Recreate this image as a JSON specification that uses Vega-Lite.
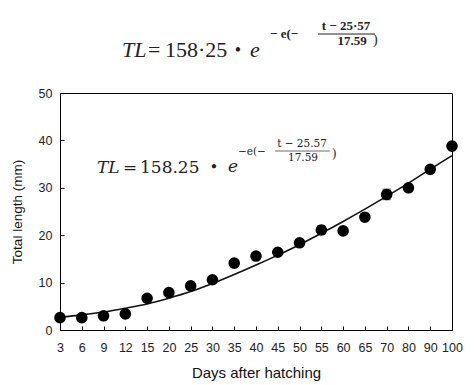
{
  "$schema": "https://vega.github.io/schema/vega-lite/v6.json",
  "autosize": {"type": "none"},
  "padding": {"left": 60, "top": 93, "right": 22, "bottom": 55},
  "width": 392,
  "height": 237,
  "background": "white",
  "config": {
    "view": {"stroke": "black", "strokeWidth": 1},
    "axis": {"domainColor": "black", "tickColor": "black", "labelFont": "Liberation Sans", "labelColor": "#222", "titleFont": "Liberation Sans", "titleFontWeight": "normal", "titleColor": "#111", "grid": false},
    "text": {"font": "DejaVu Serif", "color": "#222", "baseline": "alphabetic"}
  },
  "datasets": {
    "obs": [
      {"day": 3, "tl": 2.6, "se": 0.2},
      {"day": 6, "tl": 2.6, "se": 0.2},
      {"day": 9, "tl": 3.0, "se": 0.2},
      {"day": 12, "tl": 3.4, "se": 0.2},
      {"day": 15, "tl": 6.7, "se": 0.3},
      {"day": 20, "tl": 7.9, "se": 0.3},
      {"day": 25, "tl": 9.3, "se": 0.3},
      {"day": 30, "tl": 10.6, "se": 0.3},
      {"day": 35, "tl": 14.1, "se": 0.3},
      {"day": 40, "tl": 15.6, "se": 0.3},
      {"day": 45, "tl": 16.4, "se": 0.3},
      {"day": 50, "tl": 18.4, "se": 0.4},
      {"day": 55, "tl": 21.1, "se": 0.9},
      {"day": 60, "tl": 20.9, "se": 0.5},
      {"day": 65, "tl": 23.8, "se": 0.6},
      {"day": 70, "tl": 28.6, "se": 1.1},
      {"day": 80, "tl": 30.0, "se": 0.6},
      {"day": 90, "tl": 33.9, "se": 0.4},
      {"day": 100, "tl": 38.8, "se": 0.4}
    ],
    "fit": [
      {"day": 3, "fit": 2.7},
      {"day": 6, "fit": 3.2},
      {"day": 9, "fit": 3.8},
      {"day": 12, "fit": 4.6},
      {"day": 15, "fit": 5.5},
      {"day": 20, "fit": 6.7},
      {"day": 25, "fit": 8.1},
      {"day": 30, "fit": 9.8},
      {"day": 35, "fit": 11.7},
      {"day": 40, "fit": 13.7},
      {"day": 45, "fit": 15.8},
      {"day": 50, "fit": 18.0},
      {"day": 55, "fit": 20.4},
      {"day": 60, "fit": 22.9},
      {"day": 65, "fit": 25.5},
      {"day": 70, "fit": 28.2},
      {"day": 80, "fit": 31.0},
      {"day": 90, "fit": 33.9},
      {"day": 100, "fit": 36.8}
    ],
    "one": [{}]
  },
  "layer": [
    {
      "data": {"name": "fit"},
      "mark": {"type": "line", "interpolate": "monotone", "color": "#111", "strokeWidth": 1.6},
      "encoding": {
        "x": {"field": "day", "type": "ordinal", "title": "Days after hatching", "scale": {"type": "point", "padding": 0, "domain": [3, 6, 9, 12, 15, 20, 25, 30, 35, 40, 45, 50, 55, 60, 65, 70, 80, 90, 100]},
          "axis": {"labelAngle": 0, "labelFontSize": 12.5, "titleFontSize": 15, "tickSize": -4, "labelPadding": 15, "titlePadding": 12}},
        "y": {"field": "fit", "type": "quantitative", "title": "Total length (mm)", "scale": {"domain": [0, 50]},
          "axis": {"values": [0, 10, 20, 30, 40, 50], "labelFontSize": 12.5, "titleFontSize": 13.5, "tickSize": -4, "labelPadding": 12, "titlePadding": 14}}
      }
    },
    {
      "data": {"name": "obs"},
      "mark": {"type": "errorbar", "ticks": {"size": 8}, "thickness": 1.2, "color": "#111"},
      "encoding": {
        "x": {"field": "day", "type": "ordinal", "title": "Days after hatching"},
        "y": {"field": "tl", "type": "quantitative", "title": "Total length (mm)"},
        "yError": {"field": "se"}
      }
    },
    {
      "data": {"name": "obs"},
      "mark": {"type": "circle", "size": 135, "color": "black", "opacity": 1},
      "encoding": {
        "x": {"field": "day", "type": "ordinal", "title": "Days after hatching"},
        "y": {"field": "tl", "type": "quantitative", "title": "Total length (mm)"}
      }
    },
    {"data": {"name": "one"}, "mark": {"type": "text", "text": "TL", "font": "Liberation Serif", "fontStyle": "italic", "fontSize": 22, "align": "left", "dx": 62, "dy": -36},
      "encoding": {"x": {"datum": 3, "type": "ordinal"}, "y": {"datum": 50, "type": "quantitative"}}},
    {"data": {"name": "one"}, "mark": {"type": "text", "text": "=", "font": "Liberation Serif", "fontSize": 22, "align": "left", "dx": 88, "dy": -36},
      "encoding": {"x": {"datum": 3, "type": "ordinal"}, "y": {"datum": 50, "type": "quantitative"}}},
    {"data": {"name": "one"}, "mark": {"type": "text", "text": "158·25", "font": "Liberation Serif", "fontSize": 22, "align": "left", "dx": 105, "dy": -36},
      "encoding": {"x": {"datum": 3, "type": "ordinal"}, "y": {"datum": 50, "type": "quantitative"}}},
    {"data": {"name": "one"}, "mark": {"type": "text", "text": "•", "font": "Liberation Serif", "fontSize": 18, "align": "center", "dx": 178, "dy": -37},
      "encoding": {"x": {"datum": 3, "type": "ordinal"}, "y": {"datum": 50, "type": "quantitative"}}},
    {"data": {"name": "one"}, "mark": {"type": "text", "text": "e", "font": "Liberation Serif", "fontStyle": "italic", "fontSize": 22, "align": "left", "dx": 190, "dy": -36},
      "encoding": {"x": {"datum": 3, "type": "ordinal"}, "y": {"datum": 50, "type": "quantitative"}}},
    {"data": {"name": "one"}, "mark": {"type": "text", "text": "− e(−", "font": "Liberation Serif", "fontSize": 13, "fontWeight": "bold", "align": "left", "dx": 210, "dy": -55},
      "encoding": {"x": {"datum": 3, "type": "ordinal"}, "y": {"datum": 50, "type": "quantitative"}}},
    {"data": {"name": "one"}, "mark": {"type": "text", "text": "t − 25·57", "font": "Liberation Serif", "fontSize": 13, "fontWeight": "bold", "align": "center", "dx": 286, "dy": -63},
      "encoding": {"x": {"datum": 3, "type": "ordinal"}, "y": {"datum": 50, "type": "quantitative"}}},
    {"data": {"name": "one"}, "mark": {"type": "rule", "color": "#222", "strokeWidth": 1, "xOffset": 258, "x2Offset": 315, "yOffset": -59},
      "encoding": {"x": {"datum": 3, "type": "ordinal"}, "x2": {"datum": 3}, "y": {"datum": 50, "type": "quantitative"}}},
    {"data": {"name": "one"}, "mark": {"type": "text", "text": "17.59", "font": "Liberation Serif", "fontSize": 13, "fontWeight": "bold", "align": "center", "dx": 292, "dy": -48},
      "encoding": {"x": {"datum": 3, "type": "ordinal"}, "y": {"datum": 50, "type": "quantitative"}}},
    {"data": {"name": "one"}, "mark": {"type": "text", "text": ")", "font": "Liberation Serif", "fontSize": 14, "align": "left", "dx": 313, "dy": -49},
      "encoding": {"x": {"datum": 3, "type": "ordinal"}, "y": {"datum": 50, "type": "quantitative"}}},
    {"data": {"name": "one"}, "mark": {"type": "text", "text": "TL", "fontStyle": "italic", "fontSize": 17, "align": "left", "dx": 37, "dy": 80},
      "encoding": {"x": {"datum": 3, "type": "ordinal"}, "y": {"datum": 50, "type": "quantitative"}}},
    {"data": {"name": "one"}, "mark": {"type": "text", "text": "=", "fontSize": 17, "align": "left", "dx": 63, "dy": 80},
      "encoding": {"x": {"datum": 3, "type": "ordinal"}, "y": {"datum": 50, "type": "quantitative"}}},
    {"data": {"name": "one"}, "mark": {"type": "text", "text": "158.25", "fontSize": 17, "align": "left", "dx": 80, "dy": 80},
      "encoding": {"x": {"datum": 3, "type": "ordinal"}, "y": {"datum": 50, "type": "quantitative"}}},
    {"data": {"name": "one"}, "mark": {"type": "text", "text": "•", "fontSize": 15, "align": "center", "dx": 154, "dy": 79},
      "encoding": {"x": {"datum": 3, "type": "ordinal"}, "y": {"datum": 50, "type": "quantitative"}}},
    {"data": {"name": "one"}, "mark": {"type": "text", "text": "e", "fontStyle": "italic", "fontSize": 17, "align": "left", "dx": 168, "dy": 79},
      "encoding": {"x": {"datum": 3, "type": "ordinal"}, "y": {"datum": 50, "type": "quantitative"}}},
    {"data": {"name": "one"}, "mark": {"type": "text", "text": "−e(−", "fontSize": 10.5, "align": "left", "dx": 178, "dy": 62},
      "encoding": {"x": {"datum": 3, "type": "ordinal"}, "y": {"datum": 50, "type": "quantitative"}}},
    {"data": {"name": "one"}, "mark": {"type": "text", "text": "t − 25.57", "fontSize": 10.5, "align": "center", "dx": 242, "dy": 54},
      "encoding": {"x": {"datum": 3, "type": "ordinal"}, "y": {"datum": 50, "type": "quantitative"}}},
    {"data": {"name": "one"}, "mark": {"type": "rule", "color": "#444", "strokeWidth": 0.8, "xOffset": 215, "x2Offset": 270, "yOffset": 58},
      "encoding": {"x": {"datum": 3, "type": "ordinal"}, "x2": {"datum": 3}, "y": {"datum": 50, "type": "quantitative"}}},
    {"data": {"name": "one"}, "mark": {"type": "text", "text": "17.59", "fontSize": 10.5, "align": "center", "dx": 243, "dy": 68},
      "encoding": {"x": {"datum": 3, "type": "ordinal"}, "y": {"datum": 50, "type": "quantitative"}}},
    {"data": {"name": "one"}, "mark": {"type": "text", "text": ")", "fontSize": 12, "align": "left", "dx": 272, "dy": 65},
      "encoding": {"x": {"datum": 3, "type": "ordinal"}, "y": {"datum": 50, "type": "quantitative"}}}
  ]
}
